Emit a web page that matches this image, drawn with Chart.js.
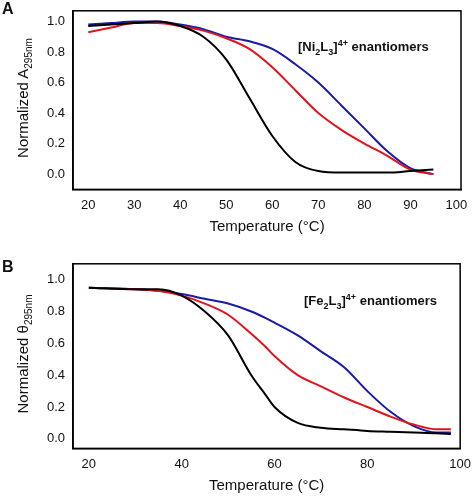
<!DOCTYPE html><html><head><meta charset="utf-8">
<script src="https://cdn.jsdelivr.net/npm/chart.js@4"></script>
<style>
body{margin:0;width:474px;height:503px;background:#fff;font-family:"Liberation Sans",Arial,sans-serif;position:relative;overflow:hidden}
.c{position:absolute;left:0;width:474px}
.t{position:absolute;font-size:15px;color:#111;white-space:nowrap}
.b{font-weight:bold}
</style></head><body>
<div class="c" style="top:0;height:240px"><canvas id="a"></canvas></div>
<div class="c" style="top:253px;height:246px"><canvas id="b"></canvas></div>
<div class="t b" style="left:2px;top:0;font-size:16px">A</div>
<div class="t b" style="left:2px;top:258px;font-size:16px">B</div>
<div class="t b" style="left:298px;top:38px;font-size:13px">[Ni<sub style="font-size:9px">2</sub>L<sub style="font-size:9px">3</sub>]<sup style="font-size:9px">4+</sup> enantiomers</div>
<div class="t b" style="left:304px;top:292px;font-size:13px">[Fe<sub style="font-size:9px">2</sub>L<sub style="font-size:9px">3</sub>]<sup style="font-size:9px">4+</sup> enantiomers</div>
<div class="t" style="left:-56px;top:88px;transform:rotate(-90deg);width:160px;text-align:center">Normalized A<sub style="font-size:10px">295nm</sub></div>
<div class="t" style="left:-56px;top:344px;transform:rotate(-90deg);width:160px;text-align:center">Normalized θ<sub style="font-size:10px">295nm</sub></div>
<script>
const tempsA=[20,25,30,35,40,45,50,55,60,65,70,75,80,85,90,95];
const aBlack=[0.97,0.98,0.99,1.0,0.97,0.9,0.75,0.5,0.25,0.08,0.02,0.01,0.01,0.01,0.02,0.03];
const aRed=[0.93,0.96,0.99,0.99,0.97,0.94,0.89,0.82,0.7,0.55,0.4,0.29,0.2,0.12,0.03,0.0];
const aBlue=[0.98,0.99,1.0,1.0,0.98,0.95,0.9,0.87,0.82,0.72,0.6,0.45,0.3,0.15,0.04,0.0];
const tempsB=[20,30,35,40,45,50,55,58,60,65,70,75,80,85,90,95,98];
const bBlack=[0.95,0.94,0.94,0.9,0.8,0.65,0.4,0.28,0.2,0.1,0.07,0.06,0.05,0.045,0.04,0.035,0.03];
const bRed=[0.95,0.94,0.93,0.9,0.85,0.78,0.66,0.58,0.52,0.4,0.33,0.26,0.2,0.14,0.09,0.06,0.06];
const bBlue=[0.95,0.94,0.93,0.91,0.88,0.85,0.8,0.76,0.73,0.65,0.55,0.45,0.3,0.17,0.08,0.04,0.04];
function mk(id,x,ys,xmin,xmax,xstep,ymin,ymax,pad){
 const ds=[['#000',ys[0]],['#e0141c',ys[1]],['#1a1aa8',ys[2]]].map(([c,d])=>({data:x.map((v,i)=>({x:v,y:d[i]})),borderColor:c,borderWidth:2,pointRadius:0,tension:0.4,cubicInterpolationMode:'monotone'}));
 new Chart(document.getElementById(id),{type:'line',data:{datasets:ds},options:{responsive:true,maintainAspectRatio:false,animation:false,
 layout:{padding:pad},plugins:{legend:{display:false},tooltip:{enabled:false}},
 scales:{x:{type:'linear',min:xmin,max:xmax,afterBuildTicks:s=>{s.ticks=[];for(let v=20;v<=100;v+=xstep)s.ticks.push({value:v});},
   grid:{display:false,drawTicks:true,tickLength:5,tickColor:'#000'},border:{color:'#000',width:1.5},
   ticks:{color:'#111',font:{size:13,family:'Liberation Sans'}},title:{display:true,text:'Temperature (°C)',color:'#111',font:{size:15,family:'Liberation Sans'},padding:{top:2}}},
  y:{min:ymin,max:ymax,afterBuildTicks:s=>{s.ticks=[0,0.2,0.4,0.6,0.8,1.0].map(v=>({value:v}));},
   grid:{display:false,tickLength:5,tickColor:'#000'},border:{color:'#000',width:1.5},
   ticks:{color:'#111',font:{size:13,family:'Liberation Sans'},callback:v=>v.toFixed(1)}}}},
 plugins:[{id:'box',afterDraw(c){const a=c.chartArea,g=c.ctx;g.save();g.strokeStyle='#000';g.lineWidth=1.5;g.strokeRect(a.left,a.top,a.width,a.height);g.restore();}}]});
}
mk('a',tempsA,[aBlack,aRed,aBlue],16.7,101,10,-0.1,1.07,{left:44,right:13,top:5,bottom:0});
mk('b',tempsB,[bBlack,bRed,bBlue],16.6,100,20,-0.06,1.1,{left:44,right:13,top:10,bottom:0});
</script></body></html>
